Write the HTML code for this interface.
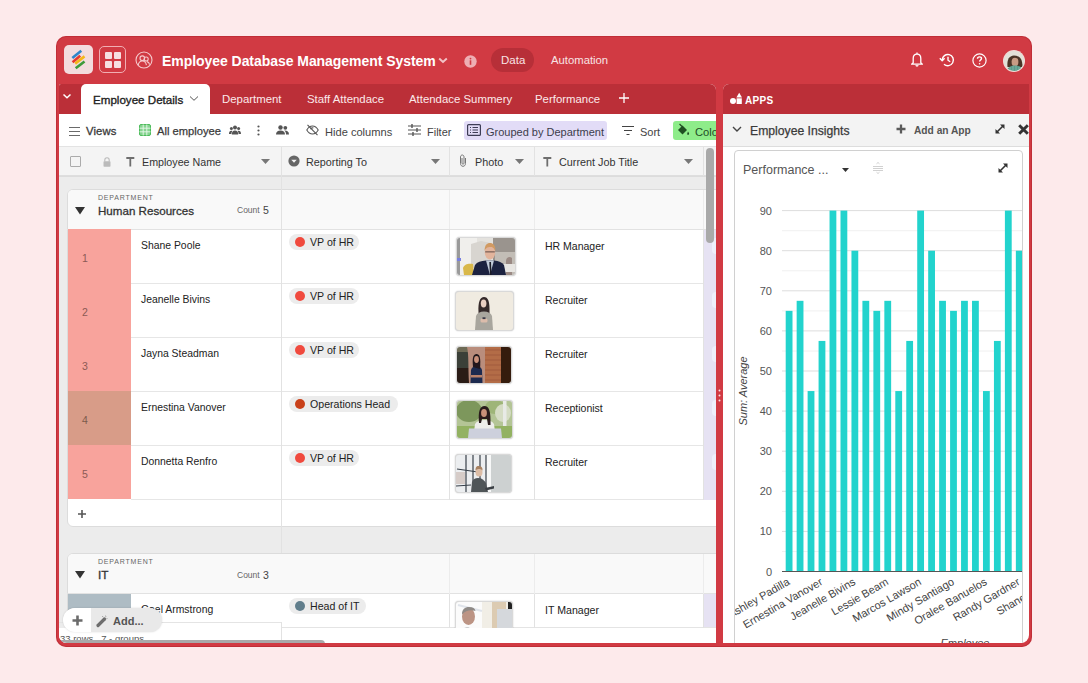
<!DOCTYPE html>
<html><head><meta charset="utf-8">
<style>
*{box-sizing:border-box;margin:0;padding:0}
html,body{width:1088px;height:683px;overflow:hidden;background:#fdeaeb;font-family:"Liberation Sans",sans-serif;position:relative}
.r{position:absolute}
.t{position:absolute;white-space:nowrap;line-height:1}
svg{position:absolute;overflow:visible}
.clipL{position:absolute;left:0;top:0;width:1088px;height:683px;clip-path:inset(84px 372px 40px 59px round 2px 6px 0 8px)}
.clipR{position:absolute;left:0;top:0;width:1088px;height:683px;clip-path:inset(84px 59px 40px 723px round 6px 0 8px 0)}
</style></head><body>

<div class="r" style="left:56px;top:36px;width:976px;height:611px;background:#d13a43;border-radius:10px;box-shadow:inset 0 0 0 1px rgba(160,25,35,0.35)"></div>
<div class="r" style="left:64px;top:45px;width:29px;height:29px;background:#f3dcde;border-radius:5px"></div>
<svg style="left:64px;top:45px" width="29" height="29" viewBox="0 0 29 29">
<g stroke-width="2.6" stroke-linecap="butt">
<line x1="8.3" y1="13" x2="17.3" y2="5.8" stroke="#2f86c9"/>
<line x1="8.6" y1="17.3" x2="16.2" y2="10.8" stroke="#e6392f"/>
<line x1="11.2" y1="18.6" x2="20.5" y2="11.4" stroke="#f5b71a"/>
<line x1="11.7" y1="23.3" x2="20.5" y2="16.4" stroke="#3d9b3b"/>
</g></svg>
<div class="r" style="left:99px;top:46px;width:27px;height:27px;border:1.3px solid #f1aeb3;border-radius:5px"></div>
<div class="r" style="left:105px;top:52px;width:7px;height:7px;background:#f6dfe1;border-radius:1px"></div>
<div class="r" style="left:114px;top:52px;width:7px;height:7px;background:#f6dfe1;border-radius:1px"></div>
<div class="r" style="left:105px;top:61px;width:7px;height:7px;background:#f6dfe1;border-radius:1px"></div>
<div class="r" style="left:114px;top:61px;width:7px;height:7px;background:#f6dfe1;border-radius:1px"></div>
<svg style="left:135px;top:51px" width="18" height="18" viewBox="0 0 18 18" fill="none" stroke="#f5c9cc" stroke-width="1.1">
<circle cx="9" cy="9" r="8"/>
<circle cx="7.3" cy="7.2" r="2.3"/><path d="M3.2 14.2 C3.6 11.3 5.2 10 7.3 10 C9.4 10 11 11.3 11.4 14.2"/>
<circle cx="11.2" cy="8" r="2"/><path d="M11.8 10.6 C13.4 10.9 14.3 12 14.6 13.6"/>
</svg>
<div class="t" style="left:162px;top:53.5px;font-size:14px;color:#fff;font-weight:bold;letter-spacing:-0.05px">Employee Database Management System</div>
<svg style="left:438px;top:57px" width="10" height="7" viewBox="0 0 10 7"><path d="M1.2 1.5 L5 5 L8.8 1.5" fill="none" stroke="#f2c2c6" stroke-width="2"/></svg>
<svg style="left:464px;top:55px" width="13" height="13" viewBox="0 0 13 13"><circle cx="6.5" cy="6.5" r="6.2" fill="#eeaeb3"/><rect x="5.7" y="5.3" width="1.6" height="4.5" fill="#d13a43"/><circle cx="6.5" cy="3.6" r="0.9" fill="#d13a43"/></svg>
<div class="r" style="left:491px;top:48px;width:43px;height:24px;background:#b72f38;border-radius:12px"></div>
<div class="t" style="left:501px;top:55px;font-size:11.5px;color:#f7e3e4;font-weight:normal;">Data</div>
<div class="t" style="left:551px;top:55px;font-size:11.3px;color:#f7e3e4;font-weight:normal;">Automation</div>
<svg style="left:909px;top:51px" width="16" height="17" viewBox="0 0 16 17" fill="none" stroke="#fff" stroke-width="1.3">
<path d="M4.2 11.8 V7.6 C4.2 5 5.8 3.2 8 3.2 C10.2 3.2 11.8 5 11.8 7.6 V11.8 L13.4 13.2 H2.6 Z" stroke-linejoin="round"/>
<path d="M8 1.6 V3" /><path d="M6.8 14.3 C7.2 15.2 8.8 15.2 9.2 14.3" />
</svg>
<svg style="left:939px;top:52px" width="17" height="16" viewBox="0 0 17 16" fill="none" stroke="#fff" stroke-width="1.4">
<path d="M3.2 8 A5.6 5.6 0 1 1 5 12.2"/><path d="M0.8 6.2 L3.2 8.8 L5.6 6.2" stroke-linejoin="round"/>
<path d="M9 4.8 V8.2 L11.2 9.8"/>
</svg>
<svg style="left:972px;top:53px" width="15" height="15" viewBox="0 0 15 15" fill="none" stroke="#fff" stroke-width="1.2">
<circle cx="7.5" cy="7.5" r="6.6"/>
<path d="M5.5 5.8 C5.5 4.5 6.4 3.9 7.5 3.9 C8.7 3.9 9.5 4.6 9.5 5.6 C9.5 6.9 7.6 7.1 7.6 8.6" stroke-width="1.4"/>
<circle cx="7.6" cy="10.8" r="0.8" fill="#fff" stroke="none"/>
</svg>
<svg style="left:1003px;top:50px" width="22" height="22" viewBox="0 0 22 22">
<defs><clipPath id="av"><circle cx="11" cy="11" r="10"/></clipPath></defs>
<circle cx="11" cy="11" r="11" fill="#f2dcd8"/>
<g clip-path="url(#av)">
<rect x="0" y="0" width="22" height="22" fill="#d9d6cc"/>
<rect x="0" y="0" width="22" height="22" fill="#e3e1d8"/>
<path d="M4.5 17 C4 11 5 6 11 5.5 C17 5.5 19.5 9 19.5 17 Z" fill="#4a3426"/>
<ellipse cx="12" cy="12" rx="3.4" ry="4.3" fill="#c99c84"/>
<path d="M3.5 22 C4.5 17 7.5 15.5 12 15.5 C16.5 15.5 19 17 19.5 22 Z" fill="#5a9b8a"/>
<path d="M7 17 V22 M10 16 V22 M13 16 V22 M16 17 V22" stroke="#8cc0b0" stroke-width="0.7"/>
</g></svg>
<div class="clipL">
<div class="r" style="left:59px;top:84px;width:657px;height:560px;background:#fff;"></div>
<div class="r" style="left:59px;top:84px;width:657px;height:30px;background:#bb2f38;"></div>
<svg style="left:62px;top:93px" width="10" height="7" viewBox="0 0 10 7"><path d="M1.5 1.5 L5 4.8 L8.5 1.5" fill="none" stroke="#fff" stroke-width="1.5"/></svg>
<div class="r" style="left:81px;top:84px;width:129px;height:30px;background:#fff;border-radius:5px 5px 0 0"></div>
<div class="t" style="left:93px;top:93.5px;font-size:11.6px;color:#1f1f1f;font-weight:normal;-webkit-text-stroke:0.35px #1f1f1f">Employee Details</div>
<svg style="left:189px;top:95px" width="10" height="7" viewBox="0 0 10 7"><path d="M1 1.5 L5 5.3 L9 1.5" fill="none" stroke="#555" stroke-width="1"/></svg>
<div class="t" style="left:222px;top:93.5px;font-size:11.4px;color:#fbe9ea;font-weight:normal;">Department</div>
<div class="t" style="left:307px;top:93.5px;font-size:11.4px;color:#fbe9ea;font-weight:normal;">Staff Attendace</div>
<div class="t" style="left:409px;top:93.5px;font-size:11.4px;color:#fbe9ea;font-weight:normal;">Attendace Summery</div>
<div class="t" style="left:535px;top:93.5px;font-size:11.4px;color:#fbe9ea;font-weight:normal;">Performance</div>
<svg style="left:618px;top:92px" width="12" height="12" viewBox="0 0 12 12"><path d="M6 1 V11 M1 6 H11" stroke="#fff" stroke-width="1.3"/></svg>
<div class="r" style="left:59px;top:146px;width:657px;height:1px;background:#e3e3e3;"></div>
<svg style="left:69px;top:126px" width="11" height="11" viewBox="0 0 11 11"><path d="M0 1.5 H11 M0 5.5 H11 M0 9.5 H11" stroke="#6a6a6a" stroke-width="1"/></svg>
<div class="t" style="left:86px;top:126px;font-size:11.3px;color:#3a3a3a;font-weight:normal;letter-spacing:0.1px;-webkit-text-stroke:0.3px #3a3a3a">Views</div>
<svg style="left:139px;top:124px" width="12" height="12" viewBox="0 0 12 12" fill="none" stroke="#4cbb5a" stroke-width="1">
<rect x="0.5" y="0.5" width="11" height="11" rx="1.5" fill="#86d490"/><path d="M4.2 0.5 V11.5 M7.8 0.5 V11.5 M0.5 4.2 H11.5 M0.5 7.8 H11.5" stroke="#e9f7eb" stroke-width="0.9"/></svg>
<div class="t" style="left:157px;top:126px;font-size:11.2px;color:#3a3a3a;font-weight:normal;-webkit-text-stroke:0.25px #3a3a3a">All employee</div>
<svg style="left:229px;top:125px" width="12" height="10" viewBox="0 0 12 10" fill="#555">
<circle cx="6" cy="2.6" r="2"/><circle cx="2.4" cy="3.4" r="1.5"/><circle cx="9.6" cy="3.4" r="1.5"/>
<path d="M2.8 9.5 C2.8 6.8 4 5.5 6 5.5 C8 5.5 9.2 6.8 9.2 9.5Z"/><path d="M0 9 C0 6.8 0.8 5.8 2.4 5.8 C3 5.8 3.3 6 3.3 6 C2.6 7 2.4 8 2.4 9Z"/><path d="M12 9 C12 6.8 11.2 5.8 9.6 5.8 C9 5.8 8.7 6 8.7 6 C9.4 7 9.6 8 9.6 9Z"/>
</svg>
<svg style="left:257px;top:125px" width="3" height="11" viewBox="0 0 3 11" fill="#555"><circle cx="1.5" cy="1.5" r="1.1"/><circle cx="1.5" cy="5.5" r="1.1"/><circle cx="1.5" cy="9.5" r="1.1"/></svg>
<svg style="left:276px;top:125px" width="13" height="10" viewBox="0 0 13 10" fill="#555">
<circle cx="4.5" cy="2.5" r="2.2"/><circle cx="9.3" cy="2.8" r="1.9"/>
<path d="M0 9.5 C0 6.6 1.8 5.5 4.5 5.5 C7.2 5.5 9 6.6 9 9.5Z"/><path d="M8.3 5.6 C10.8 5.4 13 6.4 13 9.5 H10 C10 7.6 9.3 6.3 8.3 5.6Z"/>
</svg>
<svg style="left:306px;top:124px" width="13" height="12" viewBox="0 0 13 12" fill="none" stroke="#555" stroke-width="1.1">
<path d="M0.8 6 C2.3 3.3 4.2 2 6.5 2 C8.8 2 10.7 3.3 12.2 6 C10.7 8.7 8.8 10 6.5 10 C4.2 10 2.3 8.7 0.8 6Z"/><path d="M4.6 5.2 A2 2 0 0 1 7.4 4.1"/><path d="M1.5 0.8 L11.5 11.2"/>
</svg>
<div class="t" style="left:325px;top:126.5px;font-size:11.1px;color:#444;font-weight:normal;">Hide columns</div>
<svg style="left:408px;top:124px" width="13" height="12" viewBox="0 0 13 12" fill="none" stroke="#555" stroke-width="1.1">
<path d="M0 2 H13 M0 6 H13 M0 10 H13"/><path d="M4 0 V4 M9 4 V8 M5 8 V12" stroke-width="1.4"/>
</svg>
<div class="t" style="left:427px;top:126.5px;font-size:11.0px;color:#444;font-weight:normal;">Filter</div>
<div class="r" style="left:464px;top:121px;width:143px;height:19px;background:#e2dcf7;border-radius:3px"></div>
<svg style="left:467px;top:124px" width="14" height="12" viewBox="0 0 14 12" fill="none" stroke="#3d3d55" stroke-width="1.2">
<rect x="0.6" y="0.6" width="12.8" height="10.8" rx="1"/><path d="M3 3.5 H4 M5.5 3.5 H11 M3 6 H4 M5.5 6 H11 M3 8.5 H4 M5.5 8.5 H11"/>
</svg>
<div class="t" style="left:486px;top:126.5px;font-size:11.0px;color:#3c3c4c;font-weight:normal;">Grouped by Department</div>
<svg style="left:622px;top:125px" width="12" height="11" viewBox="0 0 12 11" fill="none" stroke="#444" stroke-width="1.1">
<path d="M0 1.5 H12 M2 5.5 H10 M4.5 9.5 H7.5"/></svg>
<div class="t" style="left:640px;top:126.5px;font-size:11.0px;color:#444;font-weight:normal;">Sort</div>
<div class="r" style="left:673px;top:121px;width:60px;height:19px;background:#8eec8a;border-radius:3px"></div>
<svg style="left:677px;top:124px" width="13" height="12" viewBox="0 0 13 12" fill="#1f4f22">
<path d="M1 6 L5.5 1.5 L10 6 L5.5 10.5Z" /><path d="M2.5 0 L5 2.5" stroke="#1f4f22" stroke-width="1.2"/><path d="M11 7.5 C12 9 12.5 9.8 11.8 10.6 C11.3 11.1 10.6 11 10.3 10.5 C10 9.9 10.4 9 11 7.5Z"/>
</svg>
<div class="t" style="left:695px;top:127px;font-size:11.2px;color:#244d27;font-weight:normal;">Color</div>
<div class="r" style="left:59px;top:147px;width:657px;height:29px;background:#f4f4f4;"></div>
<div class="r" style="left:59px;top:175px;width:657px;height:1px;background:#dedede;"></div>
<div class="r" style="left:281px;top:147px;width:1px;height:29px;background:#e2e2e2;"></div>
<div class="r" style="left:449px;top:147px;width:1px;height:29px;background:#e2e2e2;"></div>
<div class="r" style="left:534px;top:147px;width:1px;height:29px;background:#e2e2e2;"></div>
<div class="r" style="left:703px;top:147px;width:1px;height:29px;background:#e2e2e2;"></div>
<div class="r" style="left:70px;top:156px;width:11px;height:11px;border:1.5px solid #ababab;border-radius:1px"></div>
<svg style="left:103px;top:157px" width="8" height="10" viewBox="0 0 8 10"><path d="M1.8 4.5 V3 C1.8 1.6 2.8 0.8 4 0.8 C5.2 0.8 6.2 1.6 6.2 3 V4.5" fill="none" stroke="#bbb" stroke-width="1.1"/><rect x="0.5" y="4.3" width="7" height="5.5" rx="0.8" fill="#bbb"/></svg>
<svg style="left:126px;top:157px" width="9" height="10" viewBox="0 0 9 10"><path d="M0.3 1 H8.3 M4.3 1 V9.5" stroke="#6e6e6e" stroke-width="1.8"/></svg>
<div class="t" style="left:142px;top:157px;font-size:10.7px;color:#333;font-weight:normal;">Employee Name</div>
<svg style="left:261px;top:159px" width="9" height="5" viewBox="0 0 9 5"><path d="M0 0 H9 L4.5 5Z" fill="#777"/></svg>
<svg style="left:288px;top:155px" width="12" height="12" viewBox="0 0 12 12"><circle cx="6" cy="6" r="5.6" fill="#666"/><path d="M3.3 4.8 H8.7 L6 7.8Z" fill="#f4f4f4"/></svg>
<div class="t" style="left:306px;top:157px;font-size:10.8px;color:#333;font-weight:normal;">Reporting To</div>
<svg style="left:431px;top:159px" width="9" height="5" viewBox="0 0 9 5"><path d="M0 0 H9 L4.5 5Z" fill="#777"/></svg>
<svg style="left:459px;top:154px" width="8" height="13" viewBox="0 0 8 13"><path d="M6.5 4 V9.5 C6.5 11.2 5.4 12.3 4 12.3 C2.6 12.3 1.5 11.2 1.5 9.5 V3 C1.5 1.8 2.3 1 3.3 1 C4.3 1 5 1.8 5 3 V9.2 C5 9.8 4.6 10.2 4 10.2 C3.4 10.2 3 9.8 3 9.2 V4" fill="none" stroke="#777" stroke-width="1"/></svg>
<div class="t" style="left:475px;top:157px;font-size:10.8px;color:#333;font-weight:normal;">Photo</div>
<svg style="left:515px;top:159px" width="9" height="5" viewBox="0 0 9 5"><path d="M0 0 H9 L4.5 5Z" fill="#777"/></svg>
<svg style="left:543px;top:157px" width="9" height="10" viewBox="0 0 9 10"><path d="M0.3 1 H8.3 M4.3 1 V9.5" stroke="#6e6e6e" stroke-width="1.8"/></svg>
<div class="t" style="left:559px;top:157px;font-size:10.8px;color:#333;font-weight:normal;">Current Job Title</div>
<svg style="left:684px;top:159px" width="9" height="5" viewBox="0 0 9 5"><path d="M0 0 H9 L4.5 5Z" fill="#777"/></svg>
<div class="r" style="left:59px;top:176px;width:657px;height:470px;background:#ececec;"></div>
<div class="r" style="left:59px;top:176px;width:657px;height:1px;background:#dcdcdc;"></div>
<div class="r" style="left:67px;top:189px;width:660px;height:338px;background:#fff;border:1px solid #dcdcdc;border-radius:6px"></div>
<div class="r" style="left:68px;top:190px;width:660px;height:39px;background:#f9f9f9;border-radius:5px 0 0 0"></div>
<div class="r" style="left:67px;top:229px;width:649px;height:1px;background:#e2e2e2;"></div>
<div class="t" style="left:98px;top:194px;font-size:7px;color:#666;font-weight:normal;letter-spacing:0.8px">DEPARTMENT</div>
<svg style="left:75px;top:207px" width="10" height="8" viewBox="0 0 10 8"><path d="M0 0 H10 L5 7.5Z" fill="#333"/></svg>
<div class="t" style="left:98px;top:205px;font-size:11.6px;color:#333;font-weight:normal;-webkit-text-stroke:0.3px #333">Human Resources</div>
<div class="t" style="left:237px;top:206px;font-size:8.5px;color:#666;font-weight:normal;">Count</div>
<div class="t" style="left:263px;top:205px;font-size:10.5px;color:#444;font-weight:normal;">5</div>
<div class="r" style="left:68px;top:229px;width:63px;height:54px;background:#f8a39c;"></div>
<div class="r" style="left:131px;top:283px;width:585px;height:1px;background:#e6e6e6;"></div>
<div class="t" style="left:82px;top:252.5px;font-size:10.5px;color:#8c5a55;font-weight:normal;">1</div>
<div class="t" style="left:141px;top:240.5px;font-size:10.4px;color:#222;font-weight:normal;">Shane Poole</div>
<div class="r" style="left:289px;top:234px;width:70px;height:16px;background:#ececec;border-radius:8px"></div>
<div class="r" style="left:295px;top:237px;width:10px;height:10px;border-radius:50%;background:#f04a3e"></div>
<div class="t" style="left:310px;top:237px;font-size:10.6px;color:#222;font-weight:normal;">VP of HR</div>
<div class="t" style="left:545px;top:240.5px;font-size:10.5px;color:#222;font-weight:normal;">HR Manager</div>
<div class="r" style="left:703px;top:230px;width:13px;height:54px;background:#e6e2f3;"></div>
<div class="r" style="left:712px;top:238px;width:8px;height:16px;background:#eef0fb;border-radius:4px"></div>
<div class="r" style="left:456px;top:237px;width:60px;height:39px;border-radius:4px;background:#d9d9d9;box-shadow:0 0 1.5px rgba(0,0,0,0.25)"></div>
<svg style="left:457px;top:238px" width="58" height="37" viewBox="0 0 58 37"><defs><filter id="blp1" x="-5%" y="-5%" width="110%" height="110%"><feGaussianBlur stdDeviation="0.7"/></filter><clipPath id="cpp1"><rect width="58" height="37" rx="3"/></clipPath></defs><g clip-path="url(#cpp1)"><g filter="url(#blp1)">
<rect x="0" y="0" width="58" height="37" fill="#e4e2de"/>
<rect x="0" y="0" width="20" height="37" fill="#f0efec"/>
<path d="M14 6 L24 3 L34 5 V30 H14Z" fill="#d8d5d0"/>
<rect x="36" y="0" width="22" height="37" fill="#9a948e"/>
<rect x="38" y="14" width="20" height="23" fill="#c2bdb6"/>
<path d="M49 37 V23 C49 19 53 18 55 20 V37Z" fill="#9b8a84"/>
<rect x="0" y="0" width="3" height="37" fill="#9a9a9a"/>
<rect x="0" y="20" width="4" height="3" fill="#7880e0"/>
<path d="M6 30 C7 26 12 25 16 26 L17 37 H7Z" fill="#d9b84a"/>
<rect x="42" y="26" width="16" height="8" fill="#e8e6e2"/>
<path d="M15 37 L18 27 C20 24 24 23 29 22.5 L37 22.5 C42 23 45 24.5 47 27 L49 37Z" fill="#1d2240"/>
<path d="M29 22.5 L33 37 L37 22.5Z" fill="#c2cbd9"/>
<path d="M32.3 24 L33 37 L34.5 37 L34 24Z" fill="#1a1c28"/>
<ellipse cx="33" cy="14.5" rx="5.2" ry="7" fill="#e2b49c"/>
<path d="M27.6 13 C27.6 7 30 5 33 5 C36 5 38.4 7 38.4 13 C37 9.5 35 9 33 9 C31 9 29 9.5 27.6 13Z" fill="#d19a62"/>
<rect x="28.2" y="13" width="9.6" height="1.6" fill="#4e3e3a" opacity="0.55"/>
</g></g></svg>
<div class="r" style="left:68px;top:283px;width:63px;height:54px;background:#f8a39c;"></div>
<div class="r" style="left:131px;top:337px;width:585px;height:1px;background:#e6e6e6;"></div>
<div class="t" style="left:82px;top:306.5px;font-size:10.5px;color:#8c5a55;font-weight:normal;">2</div>
<div class="t" style="left:141px;top:294.5px;font-size:10.4px;color:#222;font-weight:normal;">Jeanelle Bivins</div>
<div class="r" style="left:289px;top:288px;width:70px;height:16px;background:#ececec;border-radius:8px"></div>
<div class="r" style="left:295px;top:291px;width:10px;height:10px;border-radius:50%;background:#f04a3e"></div>
<div class="t" style="left:310px;top:291px;font-size:10.6px;color:#222;font-weight:normal;">VP of HR</div>
<div class="t" style="left:545px;top:294.5px;font-size:10.5px;color:#222;font-weight:normal;">Recruiter</div>
<div class="r" style="left:703px;top:284px;width:13px;height:54px;background:#e6e2f3;"></div>
<div class="r" style="left:712px;top:292px;width:8px;height:16px;background:#eef0fb;border-radius:4px"></div>
<div class="r" style="left:455px;top:291px;width:59px;height:40px;border-radius:4px;background:#d9d9d9;box-shadow:0 0 1.5px rgba(0,0,0,0.25)"></div>
<svg style="left:456px;top:292px" width="57" height="38" viewBox="0 0 57 38"><defs><filter id="blp2" x="-5%" y="-5%" width="110%" height="110%"><feGaussianBlur stdDeviation="0.7"/></filter><clipPath id="cpp2"><rect width="57" height="38" rx="3"/></clipPath></defs><g clip-path="url(#cpp2)"><g filter="url(#blp2)">
<rect x="0" y="0" width="57" height="38" fill="#f0ebe1"/>
<path d="M22.5 20 C22 10 24 5 28 5 C32 5 34 9 33.5 21 L34 28 H23Z" fill="#35292a"/>
<path d="M19 38 L20 24 C21 21 24 19.5 28 19.5 C32 19.5 35 21 36 24 L37 38Z" fill="#a9a69e"/>
<ellipse cx="27.6" cy="11.5" rx="2.8" ry="3.9" fill="#ead0c2"/>
<rect x="24.5" y="26.5" width="7" height="4" rx="1.5" fill="#dcbcab"/>
<rect x="26.5" y="25.3" width="3" height="1.8" fill="#3a3a48"/>
</g></g></svg>
<div class="r" style="left:68px;top:337px;width:63px;height:54px;background:#f8a39c;"></div>
<div class="r" style="left:131px;top:391px;width:585px;height:1px;background:#e6e6e6;"></div>
<div class="t" style="left:82px;top:360.5px;font-size:10.5px;color:#8c5a55;font-weight:normal;">3</div>
<div class="t" style="left:141px;top:348.5px;font-size:10.4px;color:#222;font-weight:normal;">Jayna Steadman</div>
<div class="r" style="left:289px;top:342px;width:70px;height:16px;background:#ececec;border-radius:8px"></div>
<div class="r" style="left:295px;top:345px;width:10px;height:10px;border-radius:50%;background:#f04a3e"></div>
<div class="t" style="left:310px;top:345px;font-size:10.6px;color:#222;font-weight:normal;">VP of HR</div>
<div class="t" style="left:545px;top:348.5px;font-size:10.5px;color:#222;font-weight:normal;">Recruiter</div>
<div class="r" style="left:703px;top:338px;width:13px;height:54px;background:#e6e2f3;"></div>
<div class="r" style="left:712px;top:346px;width:8px;height:16px;background:#eef0fb;border-radius:4px"></div>
<div class="r" style="left:456px;top:346px;width:56px;height:38px;border-radius:4px;background:#d9d9d9;box-shadow:0 0 1.5px rgba(0,0,0,0.25)"></div>
<svg style="left:457px;top:347px" width="54" height="36" viewBox="0 0 54 36"><defs><filter id="blp3" x="-5%" y="-5%" width="110%" height="110%"><feGaussianBlur stdDeviation="0.7"/></filter><clipPath id="cpp3"><rect width="54" height="36" rx="3"/></clipPath></defs><g clip-path="url(#cpp3)"><g filter="url(#blp3)">
<rect x="0" y="0" width="54" height="36" fill="#a87662"/>
<rect x="0" y="0" width="12" height="36" fill="#3b4138"/>
<rect x="0" y="0" width="12" height="5" fill="#6d6a55"/>
<rect x="0" y="21" width="12" height="15" fill="#2a1a15"/>
<path d="M10 0 H30 V36 H12 C11 20 12 8 10 0Z" fill="#b98d7c"/>
<rect x="28" y="0" width="16" height="36" fill="#b36c47"/>
<g stroke="#8e4e34" stroke-width="0.9" opacity="0.55"><path d="M28 3 H44 M28 8 H44 M28 13 H44 M28 18 H44 M28 23 H44 M28 28 H44 M28 33 H44"/></g>
<rect x="44" y="0" width="10" height="36" fill="#341a10"/>
<path d="M13.5 36 L14 23 C15 20 17 19 19.5 19 C22 19 24 20 25 23 L25.5 36Z" fill="#1c2b50"/>
<path d="M16 20 C15 10 16.5 7 19.5 7 C22.5 7 24 10 23 22Z" fill="#20181a"/>
<ellipse cx="19.5" cy="12.5" rx="2.4" ry="3.4" fill="#c8907a"/>
<path d="M14 28 H25 V30.5 H14Z" fill="#b98169"/>
</g></g></svg>
<div class="r" style="left:68px;top:391px;width:63px;height:54px;background:#d89c88;"></div>
<div class="r" style="left:131px;top:445px;width:585px;height:1px;background:#e6e6e6;"></div>
<div class="t" style="left:82px;top:414.5px;font-size:10.5px;color:#7c5a4c;font-weight:normal;">4</div>
<div class="t" style="left:141px;top:402.5px;font-size:10.4px;color:#222;font-weight:normal;">Ernestina Vanover</div>
<div class="r" style="left:289px;top:396px;width:109px;height:16px;background:#ececec;border-radius:8px"></div>
<div class="r" style="left:295px;top:399px;width:10px;height:10px;border-radius:50%;background:#c9411a"></div>
<div class="t" style="left:310px;top:399px;font-size:10.6px;color:#222;font-weight:normal;">Operations Head</div>
<div class="t" style="left:545px;top:402.5px;font-size:10.5px;color:#222;font-weight:normal;">Receptionist</div>
<div class="r" style="left:703px;top:392px;width:13px;height:54px;background:#e6e2f3;"></div>
<div class="r" style="left:712px;top:400px;width:8px;height:16px;background:#eef0fb;border-radius:4px"></div>
<div class="r" style="left:456px;top:400px;width:57px;height:39px;border-radius:4px;background:#d9d9d9;box-shadow:0 0 1.5px rgba(0,0,0,0.25)"></div>
<svg style="left:457px;top:401px" width="55" height="37" viewBox="0 0 55 37"><defs><filter id="blp4" x="-5%" y="-5%" width="110%" height="110%"><feGaussianBlur stdDeviation="0.7"/></filter><clipPath id="cpp4"><rect width="55" height="37" rx="3"/></clipPath></defs><g clip-path="url(#cpp4)"><g filter="url(#blp4)">
<rect x="0" y="0" width="55" height="37" fill="#b4c596"/>
<ellipse cx="12" cy="10" rx="13" ry="11" fill="#6f8b4d" opacity="0.8"/>
<ellipse cx="38" cy="6" rx="10" ry="7" fill="#98b070" opacity="0.8"/>
<ellipse cx="46" cy="12" rx="8" ry="9" fill="#d5dcc4"/>
<rect x="46" y="0" width="3.5" height="30" fill="#e8eae6"/>
<rect x="0" y="25" width="55" height="12" fill="#93b262"/>
<path d="M17 31 L18 23 C20 20 23 19 27.5 19 C32 19 35 20 37 23 L38 31Z" fill="#eeeeea"/>
<path d="M22 22 C21 10 23 5 27.5 5 C32 5 34 10 33.5 24 L31 24 L30 18 L25 18 L24 22Z" fill="#2a1f1d"/>
<ellipse cx="27" cy="12" rx="2.9" ry="4" fill="#c99279"/>
<path d="M11 37 L12 27.5 H44 L45 37Z" fill="#cdd0dc"/>
</g></g></svg>
<div class="r" style="left:68px;top:445px;width:63px;height:54px;background:#f8a39c;"></div>
<div class="r" style="left:131px;top:499px;width:585px;height:1px;background:#e6e6e6;"></div>
<div class="t" style="left:82px;top:468.5px;font-size:10.5px;color:#8c5a55;font-weight:normal;">5</div>
<div class="t" style="left:141px;top:456.5px;font-size:10.4px;color:#222;font-weight:normal;">Donnetta Renfro</div>
<div class="r" style="left:289px;top:450px;width:70px;height:16px;background:#ececec;border-radius:8px"></div>
<div class="r" style="left:295px;top:453px;width:10px;height:10px;border-radius:50%;background:#f04a3e"></div>
<div class="t" style="left:310px;top:453px;font-size:10.6px;color:#222;font-weight:normal;">VP of HR</div>
<div class="t" style="left:545px;top:456.5px;font-size:10.5px;color:#222;font-weight:normal;">Recruiter</div>
<div class="r" style="left:703px;top:446px;width:13px;height:54px;background:#e6e2f3;"></div>
<div class="r" style="left:712px;top:454px;width:8px;height:16px;background:#eef0fb;border-radius:4px"></div>
<div class="r" style="left:455px;top:454px;width:57px;height:39px;border-radius:4px;background:#d9d9d9;box-shadow:0 0 1.5px rgba(0,0,0,0.25)"></div>
<svg style="left:456px;top:455px" width="55" height="37" viewBox="0 0 55 37"><defs><filter id="blp5" x="-5%" y="-5%" width="110%" height="110%"><feGaussianBlur stdDeviation="0.7"/></filter><clipPath id="cpp5"><rect width="55" height="37" rx="3"/></clipPath></defs><g clip-path="url(#cpp5)"><g filter="url(#blp5)">
<rect x="0" y="0" width="55" height="37" fill="#eceef0"/>
<rect x="34" y="0" width="21" height="37" fill="#cdd1d1"/>
<rect x="30" y="0" width="5" height="37" fill="#f7f8f8"/>
<g stroke="#39414a" stroke-width="1.2" fill="none">
<path d="M10 0 V37 M17 0 V32 M24 0 V26 M30 0 V37"/>
<path d="M1 14 L22 17 M0 31 L15 30"/>
</g>
<rect x="0" y="17" width="9" height="12" fill="#c4b1a8" opacity="0.55"/>
<path d="M15 37 L16 27 C17 24 19 23 22 23 C26 23 28 25 30 28 L32 37Z" fill="#505459"/>
<ellipse cx="23" cy="17" rx="3.5" ry="4.6" fill="#dcbda6"/>
<path d="M19.5 15.5 C19.5 11.5 21 11 23 11 C25.5 11 26.7 12.5 26.5 15.5 C25 13.5 21 13.5 19.5 15.5Z" fill="#a88262"/>
<path d="M29 33 L38 31 V33.5 L30 35.5Z" fill="#3b3f44"/>
</g></g></svg>
<div class="r" style="left:449px;top:190px;width:1px;height:39px;background:#ececec;"></div>
<div class="r" style="left:449px;top:229px;width:1px;height:271px;background:#e2e2e2;"></div>
<div class="r" style="left:534px;top:190px;width:1px;height:39px;background:#ececec;"></div>
<div class="r" style="left:534px;top:229px;width:1px;height:271px;background:#e2e2e2;"></div>
<div class="r" style="left:703px;top:190px;width:1px;height:39px;background:#ececec;"></div>
<div class="r" style="left:703px;top:229px;width:1px;height:271px;background:#e2e2e2;"></div>
<div class="r" style="left:281px;top:176px;width:1px;height:470px;background:#e2e2e2;"></div>
<svg style="left:78px;top:510px" width="8" height="8" viewBox="0 0 8 8"><path d="M4 0 V8 M0 4 H8" stroke="#555" stroke-width="1.6"/></svg>
<div class="r" style="left:67px;top:553px;width:660px;height:120px;background:#fff;border:1px solid #dcdcdc;border-radius:6px"></div>
<div class="r" style="left:68px;top:554px;width:660px;height:39px;background:#f9f9f9;border-radius:5px 0 0 0"></div>
<div class="r" style="left:67px;top:593px;width:649px;height:1px;background:#e2e2e2;"></div>
<div class="t" style="left:98px;top:558px;font-size:7px;color:#666;font-weight:normal;letter-spacing:0.8px">DEPARTMENT</div>
<svg style="left:75px;top:571px" width="10" height="8" viewBox="0 0 10 8"><path d="M0 0 H10 L5 7.5Z" fill="#333"/></svg>
<div class="t" style="left:98px;top:569.5px;font-size:11.8px;color:#333;font-weight:normal;-webkit-text-stroke:0.3px #333">IT</div>
<div class="t" style="left:237px;top:571px;font-size:8.5px;color:#666;font-weight:normal;">Count</div>
<div class="t" style="left:263px;top:570px;font-size:10.5px;color:#444;font-weight:normal;">3</div>
<div class="r" style="left:68px;top:594px;width:63px;height:28px;background:#aebcc4;"></div>
<div class="t" style="left:141px;top:605px;font-size:10.4px;color:#222;font-weight:normal;">Gael Armstrong</div>
<div class="r" style="left:59px;top:622px;width:222px;height:1px;background:#e4e4e4;"></div>
<div class="r" style="left:281px;top:627px;width:435px;height:1px;background:#e4e4e4;"></div>
<div class="r" style="left:289px;top:598px;width:77px;height:16px;background:#ececec;border-radius:8px"></div>
<div class="r" style="left:295px;top:601px;width:10px;height:10px;border-radius:50%;background:#607d8b"></div>
<div class="t" style="left:310px;top:601px;font-size:10.6px;color:#222;font-weight:normal;">Head of IT</div>
<div class="t" style="left:545px;top:605px;font-size:10.6px;color:#222;font-weight:normal;">IT Manager</div>
<div class="r" style="left:455px;top:601px;width:58px;height:32px;border-radius:4px;background:#d9d9d9;box-shadow:0 0 1.5px rgba(0,0,0,0.25)"></div>
<svg style="left:456px;top:602px" width="56" height="30" viewBox="0 0 56 30"><defs><filter id="blp6" x="-5%" y="-5%" width="110%" height="110%"><feGaussianBlur stdDeviation="0.7"/></filter><clipPath id="cpp6"><rect width="56" height="30" rx="3"/></clipPath></defs><g clip-path="url(#cpp6)"><g filter="url(#blp6)">
<rect x="0" y="0" width="56" height="30" fill="#fbfbfb"/>
<rect x="26" y="0" width="30" height="30" fill="#f1eee6"/>
<rect x="36" y="0" width="14" height="30" fill="#dccbb2"/>
<rect x="52" y="0" width="4" height="8" fill="#222"/>
<rect x="41" y="7" width="15" height="23" fill="#d5d8dc"/>
<path d="M2 3 L26 9" stroke="#dfe3ea" stroke-width="2"/>
<ellipse cx="12.5" cy="14.5" rx="6.5" ry="8.5" fill="#bc9484"/>
<path d="M6 12.5 C6 7 9 5 13 5 C17 5 19 6.5 19.5 9 C16 7.5 10 7.5 6 12.5Z" fill="#8f8a86"/>
<path d="M2 30 C5 26 9 25 14 26 C20 26 24 27.5 27 30Z" fill="#45484e"/>
</g></g></svg>
<div class="r" style="left:703px;top:594px;width:13px;height:33px;background:#e6e2f3;"></div>
<div class="r" style="left:449px;top:554px;width:1px;height:40px;background:#ececec;"></div>
<div class="r" style="left:449px;top:594px;width:1px;height:80px;background:#e2e2e2;"></div>
<div class="r" style="left:534px;top:554px;width:1px;height:40px;background:#ececec;"></div>
<div class="r" style="left:534px;top:594px;width:1px;height:80px;background:#e2e2e2;"></div>
<div class="r" style="left:703px;top:554px;width:1px;height:40px;background:#ececec;"></div>
<div class="r" style="left:703px;top:594px;width:1px;height:80px;background:#e2e2e2;"></div>
<div class="r" style="left:59px;top:628px;width:657px;height:20px;background:#fff;"></div>
<div class="r" style="left:281px;top:622px;width:1px;height:25px;background:#e2e2e2;"></div>
<div class="t" style="left:60px;top:634px;font-size:9.5px;color:#555;font-weight:normal;">33 rows &nbsp; 7 - groups</div>
<div class="r" style="left:59px;top:640px;width:266px;height:8px;background:#a9a9a9;border-radius:4px"></div>
<div class="r" style="left:63px;top:608px;width:99px;height:24px;background:#e9e9e9;border-radius:12px;overflow:hidden;box-shadow:0 0 2px rgba(0,0,0,0.15)"><div class="r" style="left:0;top:0;width:28px;height:24px;background:#fff"></div></div>
<svg style="left:72px;top:615px" width="11" height="11" viewBox="0 0 11 11"><path d="M5.5 0.5 V10.5 M0.5 5.5 H10.5" stroke="#6b6b6b" stroke-width="2.6"/></svg>
<svg style="left:96px;top:614px" width="12" height="13" viewBox="0 0 12 13"><path d="M2 11.5 L8.5 5" stroke="#6e6e6e" stroke-width="3.2" stroke-linecap="round"/><path d="M9.5 1.5 L10 3 M11.5 4.5 L10.3 4.8 M6 2.2 L7.5 3.2" stroke="#999" stroke-width="0.8"/></svg>
<div class="t" style="left:113px;top:616px;font-size:11px;color:#555;font-weight:bold;">Add...</div>
<div class="r" style="left:706px;top:148px;width:8px;height:95px;background:#a9a9a9;border-radius:4px"></div>
</div>
<div class="clipR">
<div class="r" style="left:723px;top:84px;width:306px;height:560px;background:#fff;"></div>
<div class="r" style="left:723px;top:84px;width:306px;height:30px;background:#bb2f38;"></div>
<svg style="left:730px;top:93px" width="12" height="11" viewBox="0 0 12 11" fill="#fff">
<circle cx="3" cy="8" r="3"/><rect x="6.6" y="5.3" width="5.2" height="5.7"/><path d="M9.2 -0.3 L12 4.5 H6.4Z"/></svg>
<div class="t" style="left:745px;top:96px;font-size:10px;color:#fff;font-weight:bold;letter-spacing:0.3px">APPS</div>
<div class="r" style="left:723px;top:114px;width:306px;height:32px;background:#f3f3f3;"></div>
<div class="r" style="left:723px;top:146px;width:306px;height:1px;background:#dddddd;"></div>
<svg style="left:732px;top:126px" width="10" height="7" viewBox="0 0 10 7"><path d="M1 1 L5 5 L9 1" fill="none" stroke="#444" stroke-width="1.4"/></svg>
<div class="t" style="left:750px;top:125.3px;font-size:12.2px;color:#3a3a3a;font-weight:normal;-webkit-text-stroke:0.25px #3a3a3a">Employee Insights</div>
<svg style="left:896px;top:124px" width="10" height="10" viewBox="0 0 10 10"><path d="M5 0.5 V9.5 M0.5 5 H9.5" stroke="#5a5a5a" stroke-width="2.3"/></svg>
<div class="t" style="left:914px;top:125.5px;font-size:10.2px;color:#555;font-weight:bold;">Add an App</div>
<svg style="left:995px;top:124px" width="10" height="10" viewBox="0 0 10 10"><path d="M1.5 8.5 L8.5 1.5" stroke="#333" stroke-width="1.6"/><path d="M5 0.5 H9.5 V5Z M0.5 5 V9.5 H5Z" fill="#333"/></svg>
<svg style="left:1018px;top:124px" width="11" height="11" viewBox="0 0 11 11"><path d="M1.2 1.2 L9.8 9.8 M9.8 1.2 L1.2 9.8" stroke="#333" stroke-width="2.9"/></svg>
<div class="r" style="left:734px;top:150px;width:289px;height:520px;border:1.5px solid #d0d0d0;border-radius:4px;background:#fff"></div>
<div class="t" style="left:743px;top:164px;font-size:12.5px;color:#555;font-weight:normal;">Performance ...</div>
<svg style="left:842px;top:168px" width="7" height="4" viewBox="0 0 7 4"><path d="M0 0 H7 L3.5 4Z" fill="#333"/></svg>
<svg style="left:873px;top:162px" width="10" height="12" viewBox="0 0 10 12" fill="none" stroke="#ccc" stroke-width="0.9"><path d="M0 4.5 H10 M0 6.5 H10 M0 8.5 H10 M3.5 1.8 L5 0.5 L6.5 1.8 M3.5 10.2 L5 11.5 L6.5 10.2"/></svg>
<svg style="left:998px;top:163px" width="10" height="10" viewBox="0 0 10 10"><path d="M1.5 8.5 L8.5 1.5" stroke="#333" stroke-width="1.6"/><path d="M5 0.5 H9.5 V5Z M0.5 5 V9.5 H5Z" fill="#333"/></svg>
<div style="position:absolute;left:0;top:0;width:1088px;height:683px;clip-path:inset(151px 66px 40px 735px)"><svg style="left:0;top:0" width="1088" height="683" viewBox="0 0 1088 683"><text x="772" y="575.5" font-size="11" fill="#555" text-anchor="end" font-family="Liberation Sans">0</text><line x1="782" y1="551.5" x2="1022" y2="551.5" stroke="#f0f0f0" stroke-width="1"/><line x1="782" y1="531.4" x2="1022" y2="531.4" stroke="#dddddd" stroke-width="1"/><text x="772" y="535.4" font-size="11" fill="#555" text-anchor="end" font-family="Liberation Sans">10</text><line x1="782" y1="511.4" x2="1022" y2="511.4" stroke="#f0f0f0" stroke-width="1"/><line x1="782" y1="491.3" x2="1022" y2="491.3" stroke="#dddddd" stroke-width="1"/><text x="772" y="495.3" font-size="11" fill="#555" text-anchor="end" font-family="Liberation Sans">20</text><line x1="782" y1="471.2" x2="1022" y2="471.2" stroke="#f0f0f0" stroke-width="1"/><line x1="782" y1="451.2" x2="1022" y2="451.2" stroke="#dddddd" stroke-width="1"/><text x="772" y="455.2" font-size="11" fill="#555" text-anchor="end" font-family="Liberation Sans">30</text><line x1="782" y1="431.1" x2="1022" y2="431.1" stroke="#f0f0f0" stroke-width="1"/><line x1="782" y1="411.1" x2="1022" y2="411.1" stroke="#dddddd" stroke-width="1"/><text x="772" y="415.1" font-size="11" fill="#555" text-anchor="end" font-family="Liberation Sans">40</text><line x1="782" y1="391.1" x2="1022" y2="391.1" stroke="#f0f0f0" stroke-width="1"/><line x1="782" y1="371.0" x2="1022" y2="371.0" stroke="#dddddd" stroke-width="1"/><text x="772" y="375.0" font-size="11" fill="#555" text-anchor="end" font-family="Liberation Sans">50</text><line x1="782" y1="351.0" x2="1022" y2="351.0" stroke="#f0f0f0" stroke-width="1"/><line x1="782" y1="330.9" x2="1022" y2="330.9" stroke="#dddddd" stroke-width="1"/><text x="772" y="334.9" font-size="11" fill="#555" text-anchor="end" font-family="Liberation Sans">60</text><line x1="782" y1="310.9" x2="1022" y2="310.9" stroke="#f0f0f0" stroke-width="1"/><line x1="782" y1="290.8" x2="1022" y2="290.8" stroke="#dddddd" stroke-width="1"/><text x="772" y="294.8" font-size="11" fill="#555" text-anchor="end" font-family="Liberation Sans">70</text><line x1="782" y1="270.8" x2="1022" y2="270.8" stroke="#f0f0f0" stroke-width="1"/><line x1="782" y1="250.7" x2="1022" y2="250.7" stroke="#dddddd" stroke-width="1"/><text x="772" y="254.7" font-size="11" fill="#555" text-anchor="end" font-family="Liberation Sans">80</text><line x1="782" y1="230.7" x2="1022" y2="230.7" stroke="#f0f0f0" stroke-width="1"/><line x1="782" y1="210.6" x2="1022" y2="210.6" stroke="#dddddd" stroke-width="1"/><text x="772" y="214.6" font-size="11" fill="#555" text-anchor="end" font-family="Liberation Sans">90</text><rect x="785.70" y="310.85" width="6.8" height="260.65" fill="#22d3cd"/><rect x="796.66" y="300.82" width="6.8" height="270.68" fill="#22d3cd"/><rect x="807.62" y="391.05" width="6.8" height="180.45" fill="#22d3cd"/><rect x="818.58" y="340.93" width="6.8" height="230.57" fill="#22d3cd"/><rect x="829.54" y="210.60" width="6.8" height="360.90" fill="#22d3cd"/><rect x="840.50" y="210.60" width="6.8" height="360.90" fill="#22d3cd"/><rect x="851.46" y="250.70" width="6.8" height="320.80" fill="#22d3cd"/><rect x="862.42" y="300.82" width="6.8" height="270.68" fill="#22d3cd"/><rect x="873.38" y="310.85" width="6.8" height="260.65" fill="#22d3cd"/><rect x="884.34" y="300.82" width="6.8" height="270.68" fill="#22d3cd"/><rect x="895.30" y="391.05" width="6.8" height="180.45" fill="#22d3cd"/><rect x="906.26" y="340.93" width="6.8" height="230.57" fill="#22d3cd"/><rect x="917.22" y="210.60" width="6.8" height="360.90" fill="#22d3cd"/><rect x="928.18" y="250.70" width="6.8" height="320.80" fill="#22d3cd"/><rect x="939.14" y="300.82" width="6.8" height="270.68" fill="#22d3cd"/><rect x="950.10" y="310.85" width="6.8" height="260.65" fill="#22d3cd"/><rect x="961.06" y="300.82" width="6.8" height="270.68" fill="#22d3cd"/><rect x="972.02" y="300.82" width="6.8" height="270.68" fill="#22d3cd"/><rect x="982.98" y="391.05" width="6.8" height="180.45" fill="#22d3cd"/><rect x="993.94" y="340.93" width="6.8" height="230.57" fill="#22d3cd"/><rect x="1004.90" y="210.60" width="6.8" height="360.90" fill="#22d3cd"/><rect x="1015.86" y="250.70" width="6.8" height="320.80" fill="#22d3cd"/><line x1="782" y1="571.5" x2="1022" y2="571.5" stroke="#555" stroke-width="1"/><text x="790.5" y="584" font-size="11" fill="#444" text-anchor="end" font-family="Liberation Sans" transform="rotate(-30 790.5 584)">Ashley Padilla</text><text x="823.4" y="584" font-size="11" fill="#444" text-anchor="end" font-family="Liberation Sans" transform="rotate(-30 823.4 584)">Ernestina Vanover</text><text x="856.3" y="584" font-size="11" fill="#444" text-anchor="end" font-family="Liberation Sans" transform="rotate(-30 856.3 584)">Jeanelle Bivins</text><text x="889.2" y="584" font-size="11" fill="#444" text-anchor="end" font-family="Liberation Sans" transform="rotate(-30 889.2 584)">Lessie Beam</text><text x="922.1" y="584" font-size="11" fill="#444" text-anchor="end" font-family="Liberation Sans" transform="rotate(-30 922.1 584)">Marcos Lawson</text><text x="955.0" y="584" font-size="11" fill="#444" text-anchor="end" font-family="Liberation Sans" transform="rotate(-30 955.0 584)">Mindy Santiago</text><text x="987.9" y="584" font-size="11" fill="#444" text-anchor="end" font-family="Liberation Sans" transform="rotate(-30 987.9 584)">Oralee Banuelos</text><text x="1020.8" y="584" font-size="11" fill="#444" text-anchor="end" font-family="Liberation Sans" transform="rotate(-30 1020.8 584)">Randy Gardner</text><text x="1053.7" y="584" font-size="11" fill="#444" text-anchor="end" font-family="Liberation Sans" transform="rotate(-30 1053.7 584)">Shane Poole</text><text x="747" y="391" font-size="11" fill="#444" font-style="italic" text-anchor="middle" font-family="Liberation Sans" transform="rotate(-90 747 391)">Sum: Average</text><text x="965" y="647" font-size="11" fill="#444" font-style="italic" text-anchor="middle" font-family="Liberation Sans">Employee</text></svg></div>
</div>
<svg style="left:718px;top:389px" width="3" height="13" viewBox="0 0 3 13" fill="#fbe0e2"><circle cx="1.5" cy="1.5" r="1"/><circle cx="1.5" cy="6.5" r="1"/><circle cx="1.5" cy="11.5" r="1"/></svg>
</body></html>
